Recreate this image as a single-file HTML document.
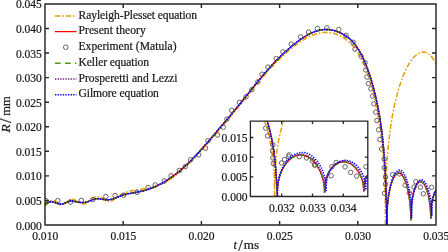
<!DOCTYPE html>
<html><head><meta charset="utf-8"><style>
html,body{margin:0;padding:0;background:#fff;width:448px;height:252px;overflow:hidden}
svg{display:block}
.lg text{font-size:11.6px}
text{font-family:'Liberation Serif',serif;font-size:12px;fill:#1a1a1a;stroke:#1a1a1a;stroke-width:0.22px}
</style></head><body>
<svg width="448" height="252" viewBox="0 0 448 252">
<defs>
<clipPath id="cm"><rect x="45" y="3.9" width="391" height="221.1"/></clipPath>
<clipPath id="ci"><rect x="250.4" y="121.1" width="117.4" height="75.4"/></clipPath>
</defs>
<rect width="448" height="252" fill="#fff"/>
<g clip-path="url(#cm)" fill="none" stroke-linejoin="round">
<path d="M45,205.66L46.5,204.7L50.14,201.31L51.2,200.59L52.25,200.2L53.31,200.26L54.35,200.77L56.97,202.91L58.57,203.94L60.17,204.55L61.78,204.71L63.39,204.43L64.46,203.98L66.04,202.92L68.67,200.63L69.74,199.86L70.83,199.35L71.94,199.18L73.07,199.32L74.81,199.97L79.52,202.75L81.27,203.58L82.99,203.96L84.12,203.86L85.23,203.5L86.87,202.56L91.24,199.05L92.92,197.88L94.65,197.07L96.43,196.7L98.24,196.73L100.7,197.29L103.17,198.33L107.99,200.95L109.7,201.34L110.8,201.22L111.87,200.83L112.92,200.22L117.1,196.92L119.84,195.11L122.68,193.64L125.61,192.47L128.62,191.53L132.3,190.66L148.03,188.15L151.75,187.39L154.81,186.62L158.39,185.47L161.3,184.29L164.7,182.63L168.01,180.73L171.22,178.64L174.85,175.98L178.38,173.15L182.27,169.77L190.61,161.84L199.37,152.67L210.38,140.39L222.4,126.36L234.19,112.08L254.26,87.26L263.27,76.52L268.75,70.33L273.94,64.74L278.84,59.75L283.89,54.91L290.09,49.42L296.09,44.66L301.89,40.72L307.46,37.57L312.72,35.21L315.73,34.16L318.17,33.47L320.64,32.95L323.13,32.61L325.65,32.45L328.17,32.5L331.95,32.96L335.05,33.71L338.07,34.78L341.53,36.48L344.27,38.19L347.37,40.54L350.24,43.13L353.29,46.38L355.65,49.34L358.15,52.96L360.39,56.74L362.41,60.67L364.23,64.72L366.09,69.46L367.98,74.91L369.89,81.03L371.98,88.42L373.87,95.84L375.59,103.3L377.13,110.79L378.5,118.3L379.81,126.47L380.95,134.67L382,143.52L383.6,161.28L384.66,179.75L385.27,200.79L385.46,225M385.53,225L385.6,203.31L385.91,186.12L386.45,171.61L387.41,156.1L388.7,142L390.3,128.99L392.2,116.93L394.38,105.76L397.25,93.85L398.58,89.13L400.45,83.21L402.41,77.74L403.93,73.94L406.03,69.3L407.66,66.15L409.87,62.42L411.58,59.98L413.88,57.21L415.64,55.52L418.02,53.77L419.81,52.86L421.61,52.29L423.42,52.06L425.23,52.22L426.43,52.61L428.23,53.6L430.03,55.08L431.8,57.04L433.56,59.46L435.3,62.33L437.01,65.63L438.69,69.35L440.33,73.46L443.51,82.75L446.51,93.32L449.31,104.95L451.88,117.42L454.55,132.8L456.55,146.47L458.5,162.76L460.03,179.23L460.99,193.33L461.69,209.57L461.92,225" stroke="#E99E00" stroke-width="1.5" stroke-dasharray="5.3 1.9 1.6 1.9"/>
<g stroke="#666" stroke-width="1.0"><circle cx="45.4" cy="200.4" r="2.25"/><circle cx="57.8" cy="200.6" r="2.25"/><circle cx="70.5" cy="202" r="2.25"/><circle cx="81.4" cy="200.3" r="2.25"/><circle cx="92.9" cy="199.6" r="2.25"/><circle cx="105.8" cy="196.5" r="2.25"/><circle cx="115.1" cy="195.5" r="2.25"/><circle cx="123.8" cy="195.2" r="2.25"/><circle cx="137" cy="192.3" r="2.25"/><circle cx="148.1" cy="187.5" r="2.25"/><circle cx="155.2" cy="184.9" r="2.25"/><circle cx="164.2" cy="181" r="2.25"/><circle cx="171" cy="175.8" r="2.25"/><circle cx="179.3" cy="170.4" r="2.25"/><circle cx="185.2" cy="166.7" r="2.25"/><circle cx="190.6" cy="159.8" r="2.25"/><circle cx="198.6" cy="154.9" r="2.25"/><circle cx="205.5" cy="148.2" r="2.25"/><circle cx="207.9" cy="140.8" r="2.25"/><circle cx="217.6" cy="135" r="2.25"/><circle cx="223.3" cy="127.2" r="2.25"/><circle cx="226.9" cy="119.2" r="2.25"/><circle cx="231.7" cy="110.3" r="2.25"/><circle cx="239.4" cy="102.4" r="2.25"/><circle cx="246" cy="96.8" r="2.25"/><circle cx="251.9" cy="89.6" r="2.25"/><circle cx="257.9" cy="81.9" r="2.25"/><circle cx="262" cy="74.2" r="2.25"/><circle cx="268" cy="67.1" r="2.25"/><circle cx="276.3" cy="58.5" r="2.25"/><circle cx="282.9" cy="51.9" r="2.25"/><circle cx="291.2" cy="44.1" r="2.25"/><circle cx="300.7" cy="36.9" r="2.25"/><circle cx="308.5" cy="32.1" r="2.25"/><circle cx="317.4" cy="28.5" r="2.25"/><circle cx="326.9" cy="27.9" r="2.25"/><circle cx="338.8" cy="29.5" r="2.25"/><circle cx="346" cy="35.3" r="2.25"/><circle cx="353.1" cy="42.3" r="2.25"/><circle cx="355" cy="49.2" r="2.25"/><circle cx="361" cy="56.2" r="2.25"/><circle cx="365.1" cy="62.7" r="2.25"/><circle cx="365.7" cy="69.9" r="2.25"/><circle cx="366.9" cy="77" r="2.25"/><circle cx="368.3" cy="83.6" r="2.25"/><circle cx="370.9" cy="88.9" r="2.25"/><circle cx="372.7" cy="96.1" r="2.25"/><circle cx="373.9" cy="103.8" r="2.25"/><circle cx="375.7" cy="112.1" r="2.25"/><circle cx="376.9" cy="120.5" r="2.25"/><circle cx="378.7" cy="129.8" r="2.25"/><circle cx="379.9" cy="139.5" r="2.25"/><circle cx="381.7" cy="149" r="2.25"/><circle cx="384.1" cy="159.2" r="2.25"/><circle cx="384.3" cy="167.5" r="2.25"/><circle cx="385.5" cy="177" r="2.25"/><circle cx="385.5" cy="184.2" r="2.25"/><circle cx="384.5" cy="193.3" r="2.25"/><circle cx="392.6" cy="174.7" r="2.25"/><circle cx="399.7" cy="173.9" r="2.25"/><circle cx="405.1" cy="185.2" r="2.25"/><circle cx="409.3" cy="193" r="2.25"/><circle cx="414" cy="187" r="2.25"/><circle cx="415.8" cy="181.7" r="2.25"/><circle cx="420.4" cy="187.2" r="2.25"/><circle cx="423.3" cy="193.8" r="2.25"/><circle cx="431.6" cy="187.3" r="2.25"/><circle cx="435.8" cy="193.8" r="2.25"/></g>
<path d="M44.99,204.3L46.13,203.42L47.89,202.49L49.08,202.1L50.9,201.84L52.12,201.87L53.96,202.16L58.79,203.84L59.97,204.12L61.15,204.16L62.33,203.97L63.5,203.6L68.23,201.54L69.44,201.18L70.65,201L73.12,201.11L79.96,202.42L83.04,202.59L85.47,202.36L87.28,201.94L93.83,199.27L96.27,198.7L98.77,198.72L104.51,199.68L106.43,199.86L108.32,199.83L110.82,199.48L114.48,198.45L122.17,195.39L125.78,194.21L128.27,193.68L135.19,192.58L139.54,191.74L143.83,190.72L148.05,189.45L152.19,187.93L156.82,185.9L161.35,183.59L165.76,181.03L169.52,178.6L173.7,175.65L177.25,172.93L181.18,169.68L184.97,166.32L189.1,162.41L197.01,154.26L206.65,143.39L230.14,115.78L239.03,104.97L256.43,83.25L264.92,73.08L269.92,67.4L274.64,62.3L279.51,57.32L284.09,52.91L290.79,46.96L297.36,41.69L303.19,37.57L308.69,34.32L313.82,31.97L318.5,30.47L320.88,29.97L323.29,29.64L325.73,29.5L328.2,29.57L331.31,29.95L335.03,30.81L338.69,32.07L342.22,33.71L345.57,35.69L348.17,37.57L351.04,40.08L353.63,42.83L355.98,45.79L358.45,49.45L360.67,53.3L362.68,57.28L365.02,62.5L367.14,67.81L369.27,73.79L371.19,79.82L373.11,86.52L374.85,93.26L376.43,100.03L377.97,107.47L379.34,114.94L380.54,122.44L381.67,130.6L382.64,138.8L384.16,155.25L385.32,173.66L386.12,193.35L387,224.94M386.85,224.51L387,213.81L387.52,205.02L388.39,197.33L389.75,189.78L390.74,185.77L391.65,182.77L392.63,180.12L393.68,177.84L394.77,175.98L395.9,174.57L397.06,173.64L398.24,173.2L399.42,173.26L400.6,173.83L401.76,174.88L402.89,176.39L403.98,178.34L405.03,180.69L406.01,183.39L407.09,187.04L408.06,191.06L408.77,194.65L409.89,202.37L410.58,210.77L410.81,220.58M410.81,220.58L410.91,212.63L411.31,205.73L412,199.87L413.1,194.2L414.65,188.98L415.45,187L416.31,185.31L417.39,183.68L418.33,182.69L419.3,182.05L420.27,181.77L421.26,181.87L422.24,182.36L423.2,183.21L424.14,184.43L425.05,185.98L425.91,187.83L427.63,192.83L429.02,198.8L429.95,204.84L430.53,211.42L430.72,219.1M430.72,219.1L430.8,212.39L431.13,206.96L431.8,202L432.86,197.39L434.21,193.62L435.05,191.96L435.94,190.61L436.88,189.59L437.85,188.94L438.84,188.65L439.66,188.74L440.32,189.08L441.13,189.86L441.92,191L442.68,192.48L443.96,195.91L445.2,200.66L446.21,206.15L446.93,212.21L447.32,218.12L447.45,225" stroke="#FF0000" stroke-width="1.3"/>
<path d="M44.99,204.3L46.13,203.42L47.89,202.49L49.08,202.1L50.9,201.84L52.12,201.87L53.96,202.16L58.79,203.84L59.97,204.12L61.15,204.16L62.33,203.97L63.5,203.6L68.23,201.54L69.44,201.18L70.65,201L73.12,201.11L79.96,202.42L83.04,202.59L85.47,202.36L87.28,201.94L93.83,199.27L96.27,198.7L98.77,198.72L104.51,199.68L106.43,199.86L108.32,199.83L110.82,199.48L114.48,198.45L122.17,195.39L125.78,194.21L128.27,193.68L135.19,192.58L139.54,191.74L143.83,190.72L148.05,189.45L152.19,187.93L156.82,185.9L161.35,183.59L165.76,181.03L169.52,178.6L173.7,175.65L177.25,172.93L181.18,169.68L184.97,166.32L189.1,162.41L197.01,154.26L206.65,143.39L230.14,115.78L239.03,104.97L256.43,83.25L264.92,73.08L269.92,67.4L274.64,62.3L279.51,57.32L284.09,52.91L290.79,46.96L297.36,41.69L303.19,37.57L308.69,34.32L313.82,31.97L318.5,30.47L320.88,29.97L323.29,29.64L325.73,29.5L328.2,29.57L331.31,29.95L335.03,30.81L338.69,32.07L342.22,33.71L345.57,35.69L348.17,37.57L351.04,40.08L353.63,42.83L355.98,45.79L358.45,49.45L360.67,53.3L362.68,57.28L365.02,62.5L367.14,67.81L369.27,73.79L371.19,79.82L373.11,86.52L374.85,93.26L376.43,100.03L377.97,107.47L379.34,114.94L380.54,122.44L381.67,130.6L382.64,138.8L384.16,155.25L385.32,173.66L386.12,193.35L387,224.94M386.85,224.51L387,213.81L387.52,205.02L388.39,197.33L389.75,189.78L390.74,185.77L391.65,182.77L392.63,180.12L393.68,177.84L394.77,175.98L395.9,174.57L397.06,173.64L398.24,173.2L399.42,173.26L400.6,173.83L401.76,174.88L402.89,176.39L403.98,178.34L405.03,180.69L406.01,183.39L407.09,187.04L408.06,191.06L408.77,194.65L409.89,202.37L410.58,210.77L410.81,220.58M410.81,220.58L410.91,212.63L411.31,205.73L412,199.87L413.1,194.2L414.65,188.98L415.45,187L416.31,185.31L417.39,183.68L418.33,182.69L419.3,182.05L420.27,181.77L421.26,181.87L422.24,182.36L423.2,183.21L424.14,184.43L425.05,185.98L425.91,187.83L427.63,192.83L429.02,198.8L429.95,204.84L430.53,211.42L430.72,219.1M430.72,219.1L430.8,212.39L431.13,206.96L431.8,202L432.86,197.39L434.21,193.62L435.05,191.96L435.94,190.61L436.88,189.59L437.85,188.94L438.84,188.65L439.66,188.74L440.32,189.08L441.13,189.86L441.92,191L442.68,192.48L443.96,195.91L445.2,200.66L446.21,206.15L446.93,212.21L447.32,218.12L447.45,225" stroke="#4A9A0A" stroke-width="1.45" stroke-dasharray="5.6 4.4"/>
<path d="M44.99,204.3L46.13,203.42L47.89,202.49L49.08,202.1L50.9,201.84L52.12,201.87L53.96,202.16L58.79,203.84L59.97,204.12L61.15,204.16L62.33,203.97L63.5,203.6L68.23,201.54L69.44,201.18L70.65,201L73.12,201.11L79.96,202.42L83.04,202.59L85.47,202.36L87.28,201.94L93.83,199.27L96.27,198.7L98.77,198.72L104.51,199.68L106.43,199.86L108.32,199.83L110.82,199.48L114.48,198.45L122.17,195.39L125.78,194.21L128.27,193.68L135.19,192.58L139.54,191.74L143.83,190.72L148.05,189.45L152.19,187.93L156.82,185.9L161.35,183.59L165.76,181.03L169.52,178.6L173.7,175.65L177.25,172.93L181.18,169.68L184.97,166.32L189.1,162.41L197.01,154.26L206.65,143.39L230.14,115.78L239.03,104.97L256.43,83.25L264.92,73.08L269.92,67.4L274.64,62.3L279.51,57.32L284.09,52.91L290.79,46.96L297.36,41.69L303.19,37.57L308.69,34.32L313.82,31.97L318.5,30.47L320.88,29.97L323.29,29.64L325.73,29.5L328.2,29.57L331.31,29.95L335.03,30.81L338.69,32.07L342.22,33.71L345.57,35.69L348.17,37.57L351.04,40.08L353.63,42.83L355.98,45.79L358.45,49.45L360.67,53.3L362.68,57.28L365.02,62.5L367.14,67.81L369.27,73.79L371.19,79.82L373.11,86.52L374.85,93.26L376.43,100.03L377.97,107.47L379.34,114.94L380.54,122.44L381.67,130.6L382.64,138.8L384.16,155.25L385.32,173.66L386.12,193.35L387,224.94M386.85,224.51L386.96,214.35L387.45,205.2L388.41,196.52L389.78,188.96L390.61,185.6L391.7,181.97L392.7,179.31L393.75,177.03L394.85,175.16L396,173.72L397.17,172.75L398.36,172.25L399.55,172.24L400.74,172.74L401.92,173.75L403.06,175.23L404.17,177.16L405.22,179.5L406.21,182.2L407.31,185.85L408.13,189.19L409,193.5L410.13,201.26L410.83,209.72L411.07,219.6M411.07,219.6L411.16,211.31L411.56,204.36L412.26,198.54L413.37,192.95L414.92,187.83L415.73,185.89L416.59,184.24L417.68,182.65L418.63,181.68L419.59,181.06L420.58,180.79L421.56,180.89L422.55,181.37L423.52,182.23L424.46,183.45L425.37,184.99L426.24,186.85L427.97,191.84L429.37,197.81L430.3,203.86L430.88,210.44L431.07,218.12M431.07,218.12L431.18,210.43L431.55,205.13L432.26,200.29L433.37,195.83L434.77,192.22L435.63,190.65L436.55,189.38L437.51,188.45L438.51,187.88L439.51,187.66L440.36,187.82L441.02,188.24L441.84,189.11L442.65,190.36L443.42,191.95L444.7,195.57L445.94,200.54L446.94,206.24L447.59,211.86L447.99,217.93L448.12,225" stroke="#741E86" stroke-width="1.5" stroke-dasharray="1.35 1.25"/>
<path d="M44.99,204.3L46.13,203.42L47.89,202.49L49.08,202.1L50.9,201.84L52.12,201.87L53.96,202.16L58.79,203.84L59.97,204.12L61.15,204.16L62.33,203.97L63.5,203.6L68.23,201.54L69.44,201.18L70.65,201L73.12,201.11L79.96,202.42L83.04,202.59L85.47,202.36L87.28,201.94L93.83,199.27L96.27,198.7L98.77,198.72L104.51,199.68L106.43,199.86L108.32,199.83L110.82,199.48L114.48,198.45L122.17,195.39L125.78,194.21L128.27,193.68L135.19,192.58L139.54,191.74L143.83,190.72L148.05,189.45L152.19,187.93L156.82,185.9L161.35,183.59L165.76,181.03L169.52,178.6L173.7,175.65L177.25,172.93L181.18,169.68L184.97,166.32L189.1,162.41L197.01,154.26L206.65,143.39L230.14,115.78L239.03,104.97L256.43,83.25L264.92,73.08L269.92,67.4L274.64,62.3L279.51,57.32L284.09,52.91L290.79,46.96L297.36,41.69L303.19,37.57L308.69,34.32L313.82,31.97L318.5,30.47L320.88,29.97L323.29,29.64L325.73,29.5L328.2,29.57L331.31,29.95L335.03,30.81L338.69,32.07L342.22,33.71L345.57,35.69L348.17,37.57L351.04,40.08L353.63,42.83L355.98,45.79L358.45,49.45L360.67,53.3L362.68,57.28L365.02,62.5L367.14,67.81L369.27,73.79L371.19,79.82L373.11,86.52L374.85,93.26L376.43,100.03L377.97,107.47L379.34,114.94L380.54,122.44L381.67,130.6L382.64,138.8L384.16,155.25L385.32,173.66L386.12,193.35L387,224.94M386.85,224.51L386.96,213.58L387.46,204.08L388.45,195.18L389.86,187.47L390.7,184.05L391.63,180.93L392.84,177.63L393.92,175.29L395.28,173L396.46,171.57L397.67,170.58L398.89,170.06L400.12,170.01L401.09,170.36L402.3,171.28L403.47,172.71L404.6,174.63L405.68,176.97L406.7,179.71L407.82,183.44L408.67,186.86L409.56,191.28L410.72,199.26L411.44,207.96L411.68,218.12M411.68,218.12L411.77,209.59L412.18,202.7L412.88,196.99L413.99,191.54L415.4,186.99L416.36,184.72L417.23,183.13L418.32,181.6L419.27,180.67L420.25,180.07L421.23,179.81L422.23,179.9L423.22,180.37L424.19,181.21L425.14,182.39L426.06,183.9L426.93,185.71L428.66,190.57L430.07,196.38L431.01,202.27L431.59,208.67L431.79,216.16M431.79,216.16L431.87,208.97L432.27,203.06L433,198.34L434.14,194.02L434.89,192.02L435.72,190.28L436.62,188.82L437.58,187.66L438.57,186.83L439.59,186.33L440.63,186.19L441.49,186.44L442.18,186.94L443.02,187.93L443.84,189.29L444.62,191.01L445.93,194.88L447.18,200.13L448.17,206.13L448.81,212.02L449.19,218.39L449.3,225" stroke="#0000FF" stroke-width="1.5" stroke-dasharray="1.35 1.25"/>
</g>
<path d="M45,3.9H436V225H45ZM45,225v-4M45,3.9v4M123.2,225v-4M123.2,3.9v4M201.4,225v-4M201.4,3.9v4M279.6,225v-4M279.6,3.9v4M357.8,225v-4M357.8,3.9v4M436,225v-4M436,3.9v4M45,200.43h4M436,200.43h-4M45,175.87h4M436,175.87h-4M45,151.3h4M436,151.3h-4M45,126.73h4M436,126.73h-4M45,102.17h4M436,102.17h-4M45,77.6h4M436,77.6h-4M45,53.03h4M436,53.03h-4M45,28.47h4M436,28.47h-4M45,3.9h4M436,3.9h-4" fill="none" stroke="#262626" stroke-width="1.45"/>
<text x="45.2" y="240.0" text-anchor="middle" textLength="26" lengthAdjust="spacingAndGlyphs">0.010</text><text x="123.4" y="240.0" text-anchor="middle" textLength="26" lengthAdjust="spacingAndGlyphs">0.015</text><text x="201.6" y="240.0" text-anchor="middle" textLength="26" lengthAdjust="spacingAndGlyphs">0.020</text><text x="279.8" y="240.0" text-anchor="middle" textLength="26" lengthAdjust="spacingAndGlyphs">0.025</text><text x="358" y="240.0" text-anchor="middle" textLength="26" lengthAdjust="spacingAndGlyphs">0.030</text><text x="436.2" y="240.0" text-anchor="middle" textLength="26" lengthAdjust="spacingAndGlyphs">0.035</text><text x="41.9" y="229.5" text-anchor="end" textLength="26" lengthAdjust="spacingAndGlyphs">0.000</text><text x="41.9" y="204.93" text-anchor="end" textLength="26" lengthAdjust="spacingAndGlyphs">0.005</text><text x="41.9" y="180.37" text-anchor="end" textLength="26" lengthAdjust="spacingAndGlyphs">0.010</text><text x="41.9" y="155.8" text-anchor="end" textLength="26" lengthAdjust="spacingAndGlyphs">0.015</text><text x="41.9" y="131.23" text-anchor="end" textLength="26" lengthAdjust="spacingAndGlyphs">0.020</text><text x="41.9" y="106.67" text-anchor="end" textLength="26" lengthAdjust="spacingAndGlyphs">0.025</text><text x="41.9" y="82.1" text-anchor="end" textLength="26" lengthAdjust="spacingAndGlyphs">0.030</text><text x="41.9" y="57.53" text-anchor="end" textLength="26" lengthAdjust="spacingAndGlyphs">0.035</text><text x="41.9" y="32.97" text-anchor="end" textLength="26" lengthAdjust="spacingAndGlyphs">0.040</text><text x="41.9" y="8.4" text-anchor="end" textLength="26" lengthAdjust="spacingAndGlyphs">0.045</text>
<text y="248.9" style="font-size:12.5px"><tspan x="233.6" font-style="italic">t</tspan><tspan x="238.2" y="250.6" style="font-size:16px">/</tspan><tspan x="243.7" y="248.9" textLength="15.3" lengthAdjust="spacingAndGlyphs">ms</tspan></text>
<text transform="translate(9.5,131.9) rotate(-90)" style="font-size:12.5px"><tspan x="-0.6" font-style="italic" style="font-size:13.5px">R</tspan><tspan x="8.8" y="1.9" style="font-size:16.5px">/</tspan><tspan x="16.2" y="0" textLength="19.4" lengthAdjust="spacingAndGlyphs">mm</tspan></text>
<g fill="none" stroke-width="1.3">
<path d="M55,15.9H76.5" stroke="#E99E00" stroke-width="1.5" stroke-dasharray="5.3 1.9 1.6 1.9"/>
<path d="M55,31.6H76.5" stroke="#FF0000"/>
<circle cx="65.75" cy="47.2" r="2.3" stroke="#666" stroke-width="1.0"/>
<path d="M55,63.2H76.5" stroke="#4A9A0A" stroke-width="1.45" stroke-dasharray="5.6 4.4"/>
<path d="M55,78.9H76.5" stroke="#741E86" stroke-width="1.5" stroke-dasharray="1.35 1.25"/>
<path d="M55,94.75H76.5" stroke="#0000FF" stroke-width="1.5" stroke-dasharray="1.35 1.25"/>
</g>
<g class="lg">
<text x="78.5" y="18.6" textLength="118.6" lengthAdjust="spacing">Rayleigh-Plesset equation</text>
<text x="78.5" y="34.34" textLength="67.3" lengthAdjust="spacing">Present theory</text>
<text x="78.5" y="50.08" textLength="98" lengthAdjust="spacing">Experiment (Matula)</text>
<text x="78.5" y="65.82" textLength="70.6" lengthAdjust="spacing">Keller equation</text>
<text x="78.5" y="81.56" textLength="99" lengthAdjust="spacing">Prosperetti and Lezzi</text>
<text x="78.5" y="97.3" textLength="80.4" lengthAdjust="spacing">Gilmore equation</text>
</g>
<rect x="250.4" y="121.1" width="117.4" height="75.4" fill="#fff"/>
<g clip-path="url(#ci)" fill="none" stroke-linejoin="round">
<path d="M244.61,82.24L248.67,88.16L252.34,94.11L255.66,100.08L258.64,106.08L261.29,112.09L263.82,118.64L266.01,125.2L267.9,131.78L269.6,138.89L271,146.01L272.12,153.14L273.04,160.79L273.74,168.95L274.2,177.12L274.48,186.31L274.56,196.5M274.7,196.5L274.74,185.96L274.85,179.13L275.04,173.25L275.46,165.38L275.83,160.55L276.53,153.76L277.39,147.39L278.42,141.35L279.6,135.59L280.95,130.06L282.45,124.76L284.1,119.65L285.89,114.73L287.83,109.99L289.91,105.43L292.13,101.05L294.47,96.84L297.79,91.52L300.42,87.74L304.09,83L307.95,78.62L310.95,75.58L315.09,71.87L318.28,69.35L320.45,67.8L322.65,66.36L326,64.4L328.26,63.24L330.55,62.19L334.01,60.83L336.34,60.08L338.68,59.44L342.22,58.7L345.77,58.25L349.33,58.06L352.89,58.2L355.26,58.51L358.81,59.3L362.33,60.48L365.83,62.05L369.3,63.99L372.71,66.29L376.08,68.93L379.39,71.91L382.64,75.2L385.81,78.78L388.9,82.64L391.9,86.75L394.81,91.09L397.61,95.65L400.31,100.4L402.9,105.32L405.37,110.39L407.71,115.59L410.64,122.69L412.67,128.13L414.57,133.64L416.31,139.2L418.41,146.68L420.24,154.21L421.43,159.86L422.45,165.52L423.31,171.15L424.01,176.76L424.69,184.15L424.99,189.6L425.14,196.5" stroke="#E99E00" stroke-width="1.5" stroke-dasharray="5.3 1.9 1.6 1.9"/>
<g stroke="#666" stroke-width="1.0"><circle cx="265.7" cy="128.1" r="2.25"/><circle cx="267.5" cy="135.9" r="2.25"/><circle cx="272.9" cy="144.8" r="2.25"/><circle cx="272.5" cy="151.2" r="2.25"/><circle cx="272.8" cy="158" r="2.25"/><circle cx="273.3" cy="163.5" r="2.25"/><circle cx="281.6" cy="162.9" r="2.25"/><circle cx="284.6" cy="159.5" r="2.25"/><circle cx="288.6" cy="156.5" r="2.25"/><circle cx="289.2" cy="154.9" r="2.25"/><circle cx="299.3" cy="156.7" r="2.25"/><circle cx="306.5" cy="157.9" r="2.25"/><circle cx="312.4" cy="160.9" r="2.25"/><circle cx="315.4" cy="165" r="2.25"/><circle cx="314.5" cy="165" r="2.25"/><circle cx="331.2" cy="175.8" r="2.25"/><circle cx="332" cy="166.7" r="2.25"/><circle cx="336.2" cy="162.5" r="2.25"/><circle cx="345.1" cy="166.8" r="2.25"/><circle cx="350.7" cy="172.4" r="2.25"/><circle cx="356.7" cy="176.1" r="2.25"/><circle cx="366" cy="166.8" r="2.25"/></g>
<path d="M247.18,81.26L250.9,86.63L254.27,92.03L257.32,97.46L260.29,103.41L262.93,109.4L265.24,115.41L267.27,121.44L269.16,128L270.76,134.58L272.11,141.18L273.31,148.29L274.36,155.92L275.2,163.54L275.92,171.67L277.6,196.45M277.3,196.11L277.37,191.18L277.59,187.54L277.96,184.27L278.62,180.5L279.3,177.68L280.35,174.35L281.59,171.22L283.02,168.31L284.97,165.1L286.77,162.7L288.7,160.57L290.75,158.75L292.9,157.26L295.13,156.14L297.42,155.39L299.73,155.03L302.07,155.09L304.38,155.54L306.67,156.38L308.9,157.59L311.05,159.15L313.1,161.03L315.03,163.19L317.17,166.11L319.08,169.33L320.47,172.2L321.68,175.23L322.68,178.38L323.47,181.67L324.04,185.11L324.38,188.75L324.5,192.96M324.5,192.96L324.53,189.62L324.69,186.6L324.96,184L325.47,181.07L326.01,178.91L326.84,176.38L327.84,174.03L329,171.84L330.31,169.83L332.05,167.67L333.64,166.08L335.32,164.73L337.46,163.43L339.31,162.63L341.21,162.12L343.13,161.9L345.07,161.98L346.99,162.36L348.89,163.05L350.74,164.02L352.53,165.26L354.23,166.75L355.84,168.45L357.61,170.75L359.2,173.27L360.36,175.52L361.36,177.89L362.19,180.36L362.85,182.94L363.32,185.63L363.6,188.48L363.7,191.78M363.7,191.78L363.73,188.86L363.86,186.4L364.09,184.34L364.52,182.06L365.1,179.99L365.83,178.09L366.7,176.33L367.91,174.4L369.06,172.94L370.57,171.38L372.22,170.05L373.99,168.97L375.83,168.16L377.75,167.63L379.69,167.41L381.32,167.47L382.61,167.75L384.21,168.37L385.76,169.28L387.26,170.47L388.42,171.6L389.78,173.21L391.06,175.03L392.23,177.02L393.28,179.15L394.2,181.41L394.98,183.79L395.62,186.26L396.12,188.84L396.4,190.99L396.6,193.84L396.66,196.5" stroke="#FF0000" stroke-width="1.3"/>
<path d="M247.18,81.26L250.9,86.63L254.27,92.03L257.32,97.46L260.29,103.41L262.93,109.4L265.24,115.41L267.27,121.44L269.16,128L270.76,134.58L272.11,141.18L273.31,148.29L274.36,155.92L275.2,163.54L275.92,171.67L277.6,196.45M277.3,196.11L277.37,191.18L277.59,187.54L277.96,184.27L278.62,180.5L279.3,177.68L280.35,174.35L281.59,171.22L283.02,168.31L284.97,165.1L286.77,162.7L288.7,160.57L290.75,158.75L292.9,157.26L295.13,156.14L297.42,155.39L299.73,155.03L302.07,155.09L304.38,155.54L306.67,156.38L308.9,157.59L311.05,159.15L313.1,161.03L315.03,163.19L317.17,166.11L319.08,169.33L320.47,172.2L321.68,175.23L322.68,178.38L323.47,181.67L324.04,185.11L324.38,188.75L324.5,192.96M324.5,192.96L324.53,189.62L324.69,186.6L324.96,184L325.47,181.07L326.01,178.91L326.84,176.38L327.84,174.03L329,171.84L330.31,169.83L332.05,167.67L333.64,166.08L335.32,164.73L337.46,163.43L339.31,162.63L341.21,162.12L343.13,161.9L345.07,161.98L346.99,162.36L348.89,163.05L350.74,164.02L352.53,165.26L354.23,166.75L355.84,168.45L357.61,170.75L359.2,173.27L360.36,175.52L361.36,177.89L362.19,180.36L362.85,182.94L363.32,185.63L363.6,188.48L363.7,191.78M363.7,191.78L363.73,188.86L363.86,186.4L364.09,184.34L364.52,182.06L365.1,179.99L365.83,178.09L366.7,176.33L367.91,174.4L369.06,172.94L370.57,171.38L372.22,170.05L373.99,168.97L375.83,168.16L377.75,167.63L379.69,167.41L381.32,167.47L382.61,167.75L384.21,168.37L385.76,169.28L387.26,170.47L388.42,171.6L389.78,173.21L391.06,175.03L392.23,177.02L393.28,179.15L394.2,181.41L394.98,183.79L395.62,186.26L396.12,188.84L396.4,190.99L396.6,193.84L396.66,196.5" stroke="#4A9A0A" stroke-width="1.45" stroke-dasharray="5.6 4.4"/>
<path d="M247.18,81.26L250.9,86.63L254.27,92.03L257.32,97.46L260.29,103.41L262.93,109.4L265.24,115.41L267.27,121.44L269.16,128L270.76,134.58L272.11,141.18L273.31,148.29L274.36,155.92L275.2,163.54L275.92,171.67L277.6,196.45M277.3,196.11L277.34,191.9L277.53,187.97L277.86,184.54L278.48,180.65L279.32,177.06L280.38,173.71L281.64,170.57L283.08,167.65L284.71,164.96L286.87,162.05L288.82,159.93L290.89,158.1L293.07,156.6L295.32,155.45L297.63,154.67L299.97,154.27L302.33,154.27L304.67,154.67L306.98,155.47L309.23,156.66L311.41,158.2L313.48,160.08L315.43,162.24L317.59,165.16L319.22,167.84L320.93,171.28L322.15,174.32L323.16,177.5L323.96,180.81L324.54,184.27L324.88,187.93L325,192.17M325,192.17L325.03,188.63L325.19,185.54L325.46,182.92L325.98,179.98L326.52,177.83L327.35,175.32L328.36,172.99L329.53,170.84L330.84,168.87L332.59,166.74L334.18,165.2L335.88,163.87L338.02,162.6L339.88,161.83L341.79,161.33L343.73,161.11L345.67,161.19L347.61,161.58L349.52,162.26L351.38,163.24L353.17,164.48L354.89,165.96L356.5,167.66L358.28,169.96L359.87,172.48L361.04,174.74L362.05,177.1L362.88,179.58L363.54,182.15L364.02,184.84L364.3,187.69L364.4,190.99M364.4,190.99L364.45,187.2L364.61,184.84L364.87,182.83L365.34,180.59L365.96,178.57L366.73,176.72L367.64,175.01L368.91,173.15L370.1,171.75L371.67,170.26L373.37,169L375.19,167.99L377.08,167.25L379.04,166.78L381.02,166.61L382.68,166.74L383.99,167.07L385.61,167.77L387.19,168.77L388.7,170.04L389.86,171.24L391.24,172.94L392.52,174.84L393.68,176.92L394.73,179.14L395.64,181.48L396.41,183.94L396.92,185.98L397.42,188.63L397.71,190.84L397.92,193.77L397.97,196.5" stroke="#741E86" stroke-width="1.5" stroke-dasharray="1.35 1.25"/>
<path d="M247.18,81.26L250.9,86.63L254.27,92.03L257.32,97.46L260.29,103.41L262.93,109.4L265.24,115.41L267.27,121.44L269.16,128L270.76,134.58L272.11,141.18L273.31,148.29L274.36,155.92L275.2,163.54L275.92,171.67L277.6,196.45M277.3,196.11L277.34,191.51L277.53,187.36L277.88,183.78L278.51,179.75L279.37,176.06L280.46,172.63L281.74,169.43L283.23,166.46L284.89,163.72L286.72,161.22L287.89,159.85L289.11,158.58L291.23,156.71L292.56,155.73L293.92,154.88L296.24,153.73L298.62,152.94L301.03,152.52L303.44,152.48L305.36,152.76L306.31,153.01L307.73,153.5L310.04,154.65L312.27,156.18L314.39,158.06L316.39,160.25L318.61,163.23L320.27,165.97L322.03,169.51L323.28,172.63L324.32,175.9L325.13,179.3L325.72,182.86L326.08,186.63L326.2,190.99M326.2,190.99L326.23,187.28L326.39,184.17L326.67,181.55L327.18,178.65L327.73,176.53L328.57,174.08L329.58,171.81L330.75,169.72L332.07,167.8L333.52,166.07L335.43,164.26L337.13,162.98L339.29,161.76L341.16,161.01L343.08,160.53L345.02,160.32L346.98,160.4L348.92,160.78L350.84,161.45L352.71,162.39L354.52,163.6L356.24,165.05L357.86,166.7L359.65,168.94L361.25,171.4L362.42,173.59L363.43,175.9L364.27,178.3L364.94,180.81L365.41,183.43L365.7,186.21L365.8,189.42M365.8,189.42L365.83,186.19L365.96,183.67L366.28,181.13L366.76,178.93L367.4,176.96L368.2,175.16L369.13,173.51L370.44,171.7L371.92,170.1L373.55,168.71L375.32,167.54L377.2,166.61L379.16,165.95L381.18,165.55L383.22,165.43L384.92,165.63L386.27,166.03L387.92,166.82L389.53,167.92L391.08,169.29L392.26,170.58L393.65,172.39L394.94,174.41L396.11,176.59L397.16,178.93L398.07,181.39L398.83,183.97L399.33,186.11L399.81,188.89L400.08,191.21L400.24,193.66L400.3,196.5" stroke="#0000FF" stroke-width="1.5" stroke-dasharray="1.35 1.25"/>
</g>
<path d="M250.4,121.1H367.8V196.5H250.4ZM281.7,196.5v-3M281.7,121.1v3M312.5,196.5v-3M312.5,121.1v3M343.3,196.5v-3M343.3,121.1v3M250.4,176.84h3M367.8,176.84h-3M250.4,157.17h3M367.8,157.17h-3M250.4,137.5h3M367.8,137.5h-3" fill="none" stroke="#262626" stroke-width="1.3"/>
<text x="281.9" y="212.0" text-anchor="middle" textLength="26" lengthAdjust="spacingAndGlyphs">0.032</text><text x="312.7" y="212.0" text-anchor="middle" textLength="26" lengthAdjust="spacingAndGlyphs">0.033</text><text x="343.5" y="212.0" text-anchor="middle" textLength="26" lengthAdjust="spacingAndGlyphs">0.034</text><text x="247.6" y="201" text-anchor="end" textLength="26" lengthAdjust="spacingAndGlyphs">0.000</text><text x="247.6" y="181.34" text-anchor="end" textLength="26" lengthAdjust="spacingAndGlyphs">0.005</text><text x="247.6" y="161.67" text-anchor="end" textLength="26" lengthAdjust="spacingAndGlyphs">0.010</text><text x="247.6" y="142" text-anchor="end" textLength="26" lengthAdjust="spacingAndGlyphs">0.015</text>
</svg>
</body></html>
